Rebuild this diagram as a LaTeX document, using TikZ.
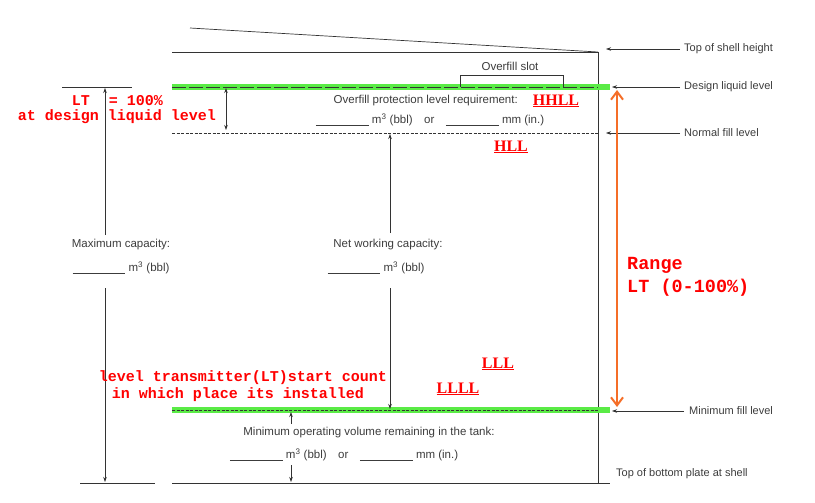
\documentclass[tikz,border=0pt]{standalone}
\usepackage{fontspec}
\setmainfont{Liberation Sans}
\newfontfamily\mono{Liberation Mono}
\newfontfamily\serifr{Liberation Serif}
\usetikzlibrary{arrows.meta}
\definecolor{lgreen}{RGB}{90,235,70}
\definecolor{orng}{RGB}{245,110,40}
\definecolor{gtxt}{RGB}{60,60,60}
\begin{document}
\begin{tikzpicture}[x=1pt,y=-1pt,
  ln/.style={draw=black!80,line width=0.7pt},
  dim/.style={draw=black!80,line width=0.6pt,-{Stealth[length=5pt,width=3.5pt]}},
  lbl/.style={font=\fontsize{11.5}{13}\selectfont,text=gtxt,inner sep=1pt},
  rlbl/.style={font=\fontsize{11}{12}\selectfont,text=gtxt,inner sep=1pt,anchor=west},
  red/.style={font=\mono\bfseries\fontsize{15}{17}\selectfont,text=red,inner sep=1pt,align=center},
  redu/.style={font=\serifr\bfseries\fontsize{16}{17}\selectfont,text=red,inner sep=1pt},
  green/.style={draw=lgreen,line width=6pt}]
\useasboundingbox (0,0) rectangle (815,503);
% roof and shell
\draw[ln] (190,28) -- (598,52);
\draw[ln] (172,52) -- (598,52) -- (598,483);
\draw[ln] (172,483) -- (610,483);
\draw[ln] (80,483) -- (155,483);
% green levels
\draw[green] (172,87) -- (610,87);
\draw[green] (172,410) -- (610,410);
\draw[ln,dash pattern=on 14pt off 3pt] (172,87) -- (598,87);
\draw[ln,dash pattern=on 3pt off 1.5pt] (172,410) -- (598,410);
\draw[ln,dash pattern=on 3pt off 1.5pt] (172,133) -- (598,133);
\draw[ln] (62,87) -- (132,87);
% overfill slot
\draw[ln] (460,87) -- (460,75) -- (563,75) -- (563,87);
\node[lbl] (os) at (510,66) {Overfill slot};
% overfill protection
\draw[dim,{Stealth[length=5pt,width=3.5pt]}-{Stealth[length=5pt,width=3.5pt]}] (226,88) -- (226,130);
\node[lbl,anchor=east] (opl) at (519,101) {Overfill protection level requirement:};
\node[lbl] (opv) at (430,120) {\underline{\hspace{4.6em}} m\textsuperscript{3} (bbl)\quad or\quad \underline{\hspace{4.6em}} mm (in.)};
% maximum capacity
\node[lbl] (mc) at (121,245) {Maximum capacity:};
\node[lbl] (mcv) at (121,268) {\underline{\hspace{4.6em}} m\textsuperscript{3} (bbl)};
\draw[dim] (105,235) -- (105,88);
\draw[dim] (105,288) -- (105,482);
% net working
\node[lbl] (nw) at (388,245) {Net working capacity:};
\node[lbl] (nwv) at (376,268) {\underline{\hspace{4.6em}} m\textsuperscript{3} (bbl)};
\draw[dim] (390,233) -- (390,134);
\draw[dim] (390,288) -- (390,409);
% minimum operating
\draw[dim] (291,424) -- (291,412);
\draw[dim] (291,465) -- (291,482);
\node[lbl] (mo) at (369,433) {Minimum operating volume remaining in the tank:};
\node[lbl] (mov) at (344,455) {\underline{\hspace{4.6em}} m\textsuperscript{3} (bbl)\quad or\quad \underline{\hspace{4.6em}} mm (in.)};
% right labels
\node[rlbl] (t1) at (683,49) {Top of shell height};
\node[rlbl] (t2) at (683,87) {Design liquid level};
\node[rlbl] (t3) at (683,133) {Normal fill level};
\node[rlbl] (t4) at (688,411) {Minimum fill level};
\node[rlbl] (t5) at (615,474) {Top of bottom plate at shell};
\draw[dim] (680,49) -- (606,49);
\draw[dim] (680,87) -- (612,87);
\draw[dim] (680,133) -- (606,133);
\draw[dim] (684,411) -- (612,411);
% orange range
\draw[draw=orng,line width=2pt,{Straight Barb[length=8pt,width=12pt]}-{Straight Barb[length=8pt,width=12pt]}] (617,90) -- (617,407);
\node[red,anchor=west,font=\mono\bfseries\fontsize{18.5}{20}\selectfont] (rg) at (626,265) {Range};
\node[red,anchor=west,font=\mono\bfseries\fontsize{18.5}{20}\selectfont] (rl) at (626,288) {LT (0-100\%)};
% red texts
\node[red] (lt1a) at (81,101) {LT};
\node[red] (lt1b) at (136,101) {= 100\%};
\node[red] (lt2) at (117,117) {at design liquid level};
\node[red] (ls1) at (243,378) {level transmitter(LT)start count};
\node[red] (ls2) at (238,395) {in which place its installed};
\node[redu] (hhll) at (556,101) {\underline{HHLL}};
\node[redu] (hll) at (511,147) {\underline{HLL}};
\node[redu] (lll) at (498,364) {\underline{LLL}};
\node[redu] (llll) at (458,389) {\underline{LLLL}};
\end{tikzpicture}
\end{document}
